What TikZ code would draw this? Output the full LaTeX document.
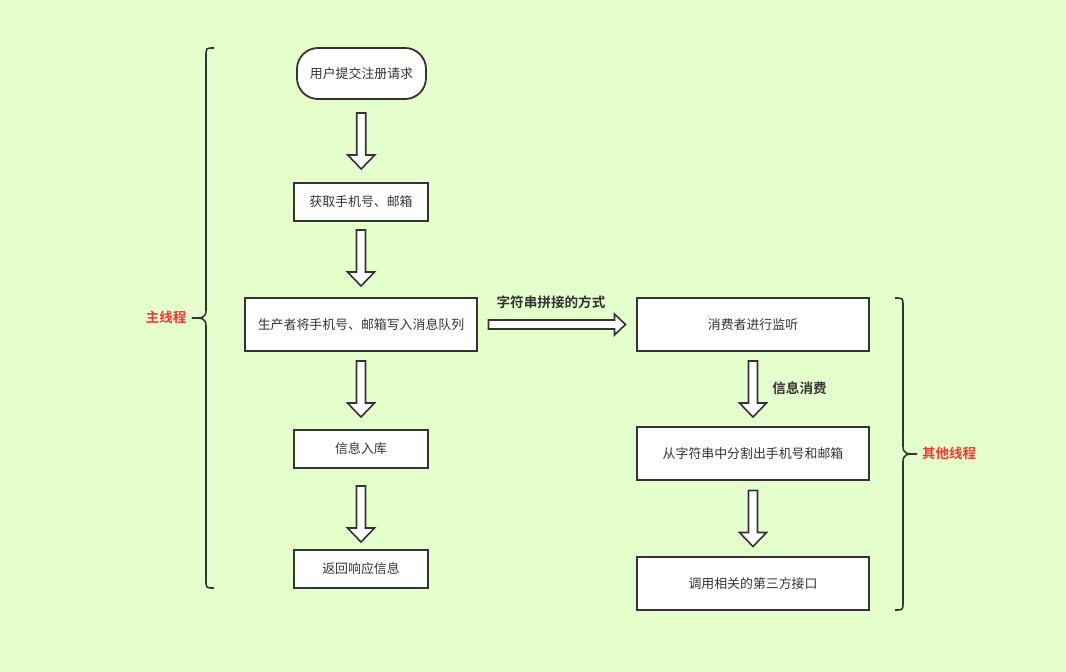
\documentclass[tikz,border=0pt]{standalone}
\usepackage{fontspec}
\setmainfont{Noto Sans CJK SC}[BoldFont={Noto Sans CJK SC Bold}]
\usetikzlibrary{calc}
\definecolor{bg}{RGB}{229,255,204}
\definecolor{ink}{RGB}{51,51,51}
\definecolor{redlab}{RGB}{255,51,51}
\tikzset{
  box/.style={draw=ink, line width=1.8pt, fill=white, minimum width=#1, inner sep=0pt, font=\fontsize{12.9}{15}\selectfont, text=ink},
  box/.default=134pt,
  barrow/.style={draw=ink, line width=1.6pt, fill=white, line join=miter},
  brace/.style={draw=ink, line width=1.6pt},
  redtag/.style={text=redlab, font=\bfseries\fontsize{13.5}{15}\selectfont},
  darktag/.style={text=ink, font=\bfseries\fontsize{13.6}{15}\selectfont},
  downarr/.pic={\draw[barrow] (-4.5,-28) -- (-4.5,14) -- (-13.5,14) -- (0,28) -- (13.5,14) -- (4.5,14) -- (4.5,-28) -- cycle;},
  rightarr/.pic={\draw[barrow] (-68.5,-4.5) -- (57.5,-4.5) -- (57.5,-10.5) -- (68.5,0) -- (57.5,10.5) -- (57.5,4.5) -- (-68.5,4.5) -- cycle;}
}
\begin{document}
\begin{tikzpicture}[x=1pt,y=-1pt]
\fill[bg] (0,0) rectangle (1066,672);
\useasboundingbox (0,0) rectangle (1066,672);
% left column
\node[box=129pt, minimum height=51pt, rounded corners=21pt] (n1) at (361.5,73.5) {用户提交注册请求};
\node[box, minimum height=38pt] (n2) at (361,202) {获取手机号、邮箱};
\node[box=232pt, minimum height=53pt] (n3) at (361,324.5) {生产者将手机号、邮箱写入消息队列};
\node[box, minimum height=38pt] (n4) at (361,449) {信息入库};
\node[box, minimum height=38pt] (n5) at (361,569) {返回响应信息};
% right column
\node[box=232pt, minimum height=53pt] (m1) at (753,324.5) {消费者进行监听};
\node[box=232pt, minimum height=53pt] (m2) at (753,453.5) {从字符串中分割出手机号和邮箱};
\node[box=232pt, minimum height=53pt] (m3) at (753,583.5) {调用相关的第三方接口};
% block arrows
\pic at ($(n1.south)!0.5!(n2.north)$) {downarr};
\pic at ($(n2.south)!0.5!(n3.north)+(0,-1.5)$) {downarr};
\pic at ($(n3.south)!0.5!(n4.north)+(0,-1.5)$) {downarr};
\pic at ($(n4.south)!0.5!(n5.north)+(0,5)$) {downarr};
\pic at ($(m1.south)!0.5!(m2.north)$) {downarr};
\pic at ($(m2.south)!0.5!(m3.north)$) {downarr};
\pic at ($(n3.east)!0.5!(m1.west)$) {rightarr};
% labels
\node[darktag] (lab1) at (551,302) {字符串拼接的方式};
\node[darktag] (lab2) at (799.5,388) {信息消费};
\node[redtag] (lmain) at (166,317) {主线程};
\node[redtag] (lother) at (949,453) {其他线程};
% braces
\draw[brace] (214,48) .. controls (206,48) .. (206,56) -- (206,310) .. controls (206,318) and (202,318) .. (192,318)
  .. controls (202,318) and (206,318) .. (206,326) -- (206,580) .. controls (206,588) .. (214,588);
\draw[brace] (895,298) .. controls (903,298) .. (903,306) -- (903,446) .. controls (903,454) and (907,454) .. (917,454)
  .. controls (907,454) and (903,454) .. (903,462) -- (903,602) .. controls (903,610) .. (895,610);
\end{tikzpicture}
\end{document}
